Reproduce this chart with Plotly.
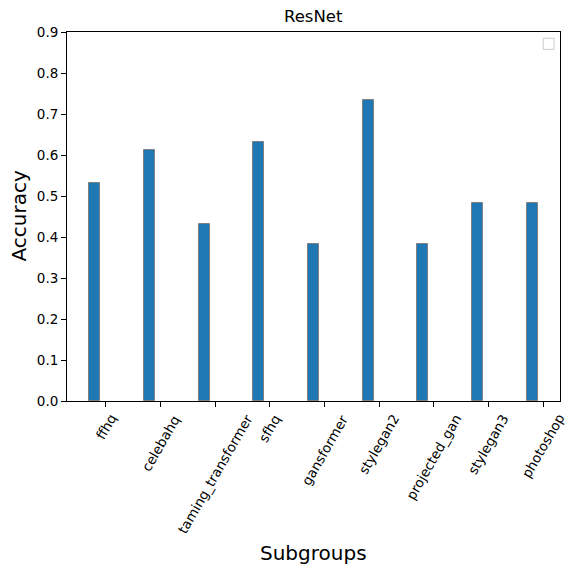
import plotly.graph_objects as go

# values
subgroups = ['ffhq', 'celebahq', 'taming_transformer', 'sfhq', 'gansformer',
             'stylegan2', 'projected_gan', 'stylegan3', 'photoshop']
accuracy = [0.532, 0.612, 0.432, 0.632, 0.382, 0.733, 0.382, 0.482, 0.482]
y_ticks = [0.0, 0.1, 0.2, 0.3, 0.4, 0.5, 0.6, 0.7, 0.8, 0.9]

bar_width = 0.2
positions = list(range(len(subgroups)))
tick_pos = [p + bar_width for p in positions]

font = 'DejaVu Sans'

fig = go.Figure()
fig.add_trace(go.Bar(
    x=positions, y=accuracy, width=bar_width,
    marker=dict(color='#1f77b4', line=dict(color='grey', width=1)),
    showlegend=False,
))

# rotated tick labels, centred on the ticks like matplotlib does
annotations = []
for pos, name in zip(tick_pos, subgroups):
    annotations.append(dict(
        x=pos, y=0, xref='x', yref='paper', text=name, showarrow=False,
        textangle=-60, xanchor='center', yanchor='top', yshift=-8,
        font=dict(family=font, size=13.5, color='black'),
    ))

annotations.append(dict(
    x=0.5, y=0, xref='paper', yref='paper', text='Subgroups', showarrow=False,
    xanchor='center', yanchor='middle', yshift=-152,
    font=dict(family=font, size=20, color='black'),
))
annotations.append(dict(
    x=0, y=0.5, xref='paper', yref='paper', text='Accuracy', showarrow=False,
    textangle=-90, xanchor='center', yanchor='middle', xshift=-49,
    font=dict(family=font, size=20, color='black'),
))
annotations.append(dict(
    x=0.5, y=1, xref='paper', yref='paper', text='ResNet', showarrow=False,
    xanchor='center', yanchor='bottom', yshift=4,
    font=dict(family=font, size=16.5, color='black'),
))

# page body adds 8px around the figure, so the figure is a bit smaller
fig.update_layout(
    width=572, height=566,
    margin=dict(l=59, r=20, t=24, b=173),
    paper_bgcolor='white', plot_bgcolor='white',
    font=dict(family=font, size=13.5, color='black'),
    annotations=annotations,
    bargap=0,
    # empty legend box (matplotlib legend without artists)
    shapes=[dict(type='rect', xref='paper', yref='paper',
                 x0=0.966, x1=0.988, y0=0.953, y1=0.983,
                 line=dict(color='#cccccc', width=1), fillcolor='white')],
)

fig.update_xaxes(
    range=[-0.51, 8.51], tickvals=tick_pos, ticktext=['' for _ in subgroups],
    ticks='outside', ticklen=5, tickcolor='black', showgrid=False, zeroline=False,
    showline=True, linecolor='black', linewidth=1, mirror=True,
)
fig.update_yaxes(
    range=[0, 0.9], tickvals=y_ticks, tickformat='.1f',
    ticks='outside', ticklen=5, tickcolor='black', showgrid=False, zeroline=False,
    showline=True, linecolor='black', linewidth=1, mirror=True,
    tickfont=dict(family=font, size=13.5),
)

fig.write_html("out.html")
